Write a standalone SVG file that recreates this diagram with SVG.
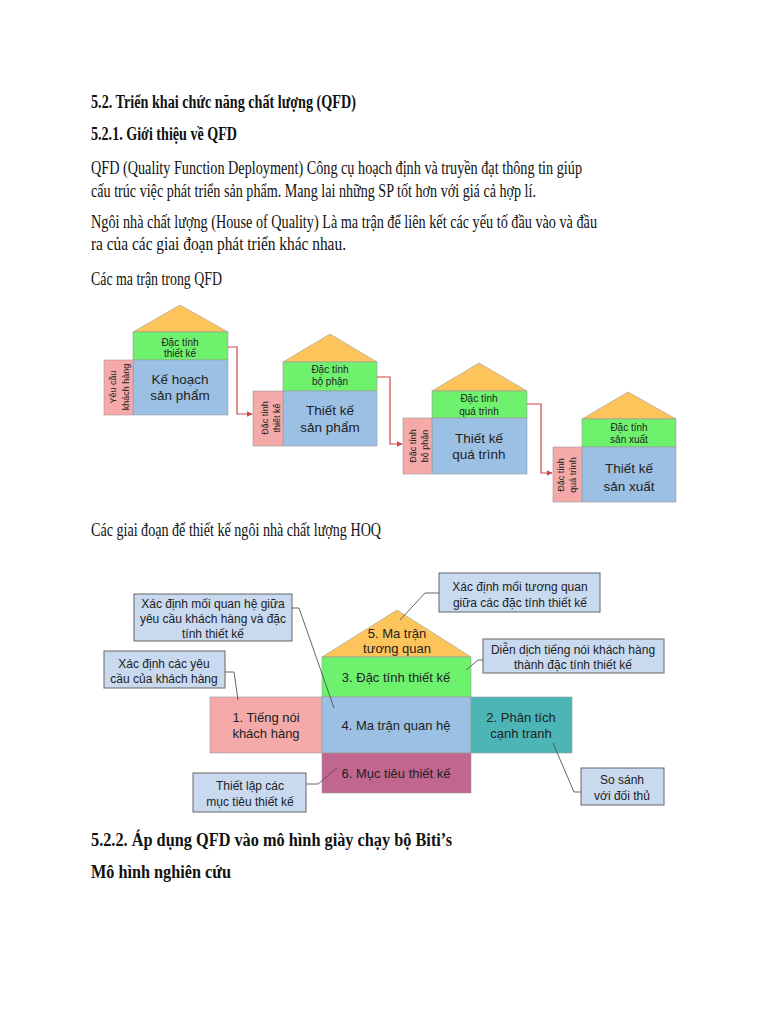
<svg xmlns="http://www.w3.org/2000/svg" width="768" height="1024" viewBox="0 0 768 1024">
<defs>
<style>
.body{font-family:"Liberation Serif","Times New Roman",serif;font-size:18.5px;fill:#111}
.bold{font-weight:bold}
.d{font-family:"Liberation Sans",Arial,sans-serif;fill:#222;text-anchor:middle}
.s9{font-size:10px}
.s8{font-size:9px}
.s13{font-size:13.5px}
.s12{font-size:13px}
.s11{font-size:12px}
.roof{fill:#fdc45c;stroke:#9a9a9a;stroke-width:0.6}
.grn{fill:#6ef26e;stroke:#9a9a9a;stroke-width:0.6}
.blu{fill:#9cc0e4;stroke:#9a9a9a;stroke-width:0.6}
.pnk{fill:#f5a9a9;stroke:#9a9a9a;stroke-width:0.6}
.teal{fill:#4cb6b6;stroke:#9a9a9a;stroke-width:0.6}
.mag{fill:#c0668f;stroke:#9a9a9a;stroke-width:0.6}
.call{fill:#c8d9f0;stroke:#666;stroke-width:1}
.red{fill:none;stroke:#d04545;stroke-width:1.2}
.lead{fill:none;stroke:#555;stroke-width:0.9}
</style>
<marker id="ar" viewBox="0 0 10 10" refX="9" refY="5" markerWidth="5" markerHeight="5" orient="auto">
<path d="M0,0 L10,5 L0,10 z" fill="#d04545"/>
</marker>
</defs>
<rect width="768" height="1024" fill="#fff"/>

<g id="text">
<text class="body bold" x="91" y="108" textLength="265" lengthAdjust="spacingAndGlyphs">5.2. Triển khai chức năng chất lượng (QFD)</text>
<text class="body bold" x="91" y="140" textLength="146" lengthAdjust="spacingAndGlyphs">5.2.1. Giới thiệu về QFD</text>
<text class="body" x="91" y="174" textLength="491" lengthAdjust="spacingAndGlyphs">QFD (Quality Function Deployment) Công cụ hoạch định và truyền đạt thông tin giúp</text>
<text class="body" x="91" y="197" textLength="445" lengthAdjust="spacingAndGlyphs">cấu trúc việc phát triển sản phẩm. Mang lai những SP tốt hơn với giá cả hợp lí.</text>
<text class="body" x="91" y="228" textLength="506" lengthAdjust="spacingAndGlyphs">Ngôi nhà chất lượng (House of Quality) Là ma trận để liên kết các yếu tố đầu vào và đầu</text>
<text class="body" x="91" y="250" textLength="255" lengthAdjust="spacingAndGlyphs">ra của các giai đoạn phát triển khác nhau.</text>
<text class="body" x="91" y="285" textLength="131" lengthAdjust="spacingAndGlyphs">Các ma trận trong QFD</text>
<text class="body" x="91" y="536" textLength="290" lengthAdjust="spacingAndGlyphs">Các giai đoạn để thiết kế ngôi nhà chất lượng HOQ</text>
<text class="body bold" x="91" y="846" textLength="361" lengthAdjust="spacingAndGlyphs">5.2.2. Áp dụng QFD vào mô hình giày chạy bộ Biti’s</text>
<text class="body bold" x="91" y="878" textLength="140" lengthAdjust="spacingAndGlyphs">Mô hình nghiên cứu</text>
</g>

<!-- QFD matrices -->
<g id="house1">
<polygon class="roof" points="133,332 180,305 228,332"/>
<rect class="grn" x="133" y="332" width="95" height="28"/>
<rect class="blu" x="133" y="360" width="95" height="55"/>
<rect class="pnk" x="104" y="360" width="29" height="55"/>
<text class="d s9" x="180" y="346">Đặc tính</text>
<text class="d s9" x="180" y="357">thiết kế</text>
<text class="d s13" x="180" y="384">Kế hoạch</text>
<text class="d s13" x="180" y="400">sản phẩm</text>
<text class="d s8" x="116" y="387" transform="rotate(-90 116 387)">Yêu cầu</text>
<text class="d s8" x="129" y="387" transform="rotate(-90 129 387)">khách hàng</text>
</g>
<g id="house2">
<polygon class="roof" points="283,362 330,334 377,362"/>
<rect class="grn" x="283" y="362" width="94" height="29"/>
<rect class="blu" x="283" y="391" width="94" height="55"/>
<rect class="pnk" x="253" y="391" width="30" height="55"/>
<text class="d s9" x="330" y="373">Đặc tính</text>
<text class="d s9" x="330" y="385">bộ phận</text>
<text class="d s13" x="330" y="415">Thiết kế</text>
<text class="d s13" x="330" y="432">sản phẩm</text>
<text class="d s8" x="268" y="418" transform="rotate(-90 268 418)">Đặc tính</text>
<text class="d s8" x="280" y="418" transform="rotate(-90 280 418)">thiết kế</text>
</g>
<g id="house3">
<polygon class="roof" points="432,391 479,363 527,391"/>
<rect class="grn" x="432" y="391" width="95" height="27"/>
<rect class="blu" x="432" y="418" width="95" height="56"/>
<rect class="pnk" x="403" y="418" width="29" height="56"/>
<text class="d s9" x="479" y="402">Đặc tính</text>
<text class="d s9" x="479" y="415">quá trình</text>
<text class="d s13" x="479" y="443">Thiết kế</text>
<text class="d s13" x="479" y="459">quá trình</text>
<text class="d s8" x="416" y="446" transform="rotate(-90 416 446)">Đặc tính</text>
<text class="d s8" x="428" y="446" transform="rotate(-90 428 446)">bộ phận</text>
</g>
<g id="house4">
<polygon class="roof" points="582,419 628,392 676,419"/>
<rect class="grn" x="582" y="419" width="94" height="28"/>
<rect class="blu" x="582" y="447" width="94" height="55"/>
<rect class="pnk" x="553" y="447" width="29" height="55"/>
<text class="d s9" x="629" y="431">Đặc tính</text>
<text class="d s9" x="629" y="443">sản xuất</text>
<text class="d s13" x="629" y="473">Thiết kế</text>
<text class="d s13" x="629" y="491">sản xuất</text>
<text class="d s8" x="564" y="475" transform="rotate(-90 564 475)">Đặc tính</text>
<text class="d s8" x="576" y="475" transform="rotate(-90 576 475)">quá trình</text>
</g>
<g id="connectors-qfd">
<path class="red" d="M228,347 H237 V414 H252" marker-end="url(#ar)"/>
<path class="red" d="M377,377 H390 V444 H402" marker-end="url(#ar)"/>
<path class="red" d="M527,404 H541 V473 H552" marker-end="url(#ar)"/>
</g>

<!-- HOQ -->
<g id="hoq-roof">
<polygon class="roof" points="322,657 397,610 471,657"/>
<text class="d s12" x="397" y="638">5. Ma trận</text>
<text class="d s12" x="397" y="653">tương quan</text>
</g>
<g id="hoq-3">
<rect class="grn" x="322" y="657" width="149" height="40"/>
<text class="d s12" x="396" y="682">3. Đặc tính thiết kế</text>
</g>
<g id="hoq-1">
<rect class="pnk" x="210" y="697" width="112" height="56"/>
<text class="d s12" x="266" y="722">1. Tiếng nói</text>
<text class="d s12" x="266" y="738">khách hàng</text>
</g>
<g id="hoq-4">
<rect class="blu" x="322" y="697" width="149" height="56"/>
<text class="d s12" x="396" y="730">4. Ma trận quan hệ</text>
</g>
<g id="hoq-2">
<rect class="teal" x="471" y="697" width="101" height="56"/>
<text class="d s12" x="521" y="722">2. Phân tích</text>
<text class="d s12" x="521" y="738">cạnh tranh</text>
</g>
<g id="hoq-6">
<rect class="mag" x="322" y="753" width="149" height="40"/>
<text class="d s12" x="396" y="778">6. Mục tiêu thiết kế</text>
</g>

<g id="call-a">
<rect class="call" x="134" y="594" width="158" height="47"/>
<text class="d s11" x="213" y="608">Xác định mối quan hệ giữa</text>
<text class="d s11" x="213" y="623">yêu cầu khách hàng và đặc</text>
<text class="d s11" x="213" y="638">tính thiết kế</text>
</g>
<g id="call-b">
<rect class="call" x="104" y="651" width="121" height="37"/>
<text class="d s11" x="164" y="668">Xác định các yêu</text>
<text class="d s11" x="164" y="683">cầu của khách hàng</text>
</g>
<g id="call-c">
<rect class="call" x="439" y="573" width="161" height="39"/>
<text class="d s11" x="520" y="591">Xác định mối tương quan</text>
<text class="d s11" x="520" y="607">giữa các đặc tính thiết kế</text>
</g>
<g id="call-d">
<rect class="call" x="483" y="639" width="181" height="34"/>
<text class="d s11" x="573" y="654">Diễn dịch tiếng nói khách hàng</text>
<text class="d s11" x="573" y="669">thành đặc tính thiết kế</text>
</g>
<g id="call-e">
<rect class="call" x="581" y="768" width="83" height="37"/>
<text class="d s11" x="622" y="784">So sánh</text>
<text class="d s11" x="622" y="800">với đối thủ</text>
</g>
<g id="call-f">
<rect class="call" x="193" y="773" width="113" height="39"/>
<text class="d s11" x="250" y="790">Thiết lập các</text>
<text class="d s11" x="250" y="806">mục tiêu thiết kế</text>
</g>
<g id="connectors-hoq">
<path class="lead" d="M292,608 H299 L334,708"/>
<path class="lead" d="M225,672 H234 L238,700"/>
<path class="lead" d="M439,593 H425 L400,620"/>
<path class="lead" d="M483,660 H478 L466,670"/>
<path class="lead" d="M581,792 H574 L553,743"/>
<path class="lead" d="M306,784 H318 L337,768"/>
</g>
</svg>
